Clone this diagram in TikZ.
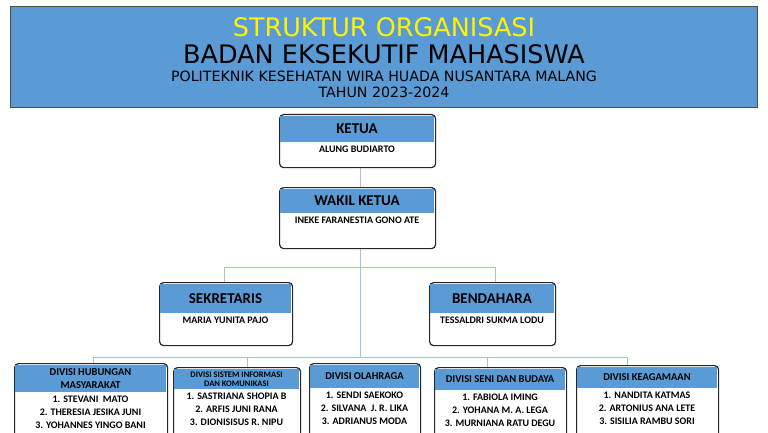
\documentclass[tikz,border=0pt]{standalone}
\usepackage{fontspec}
\setmainfont{Carlito}
\newfontfamily\hdr{DejaVu Sans}
\definecolor{hblue}{HTML}{5B9BD5}
\definecolor{lblue}{HTML}{9DC3E6}
\begin{document}
\begin{tikzpicture}[x=1pt,y=-1pt,
  boxframe/.style={draw=black!85,line width=1.2pt,rounded corners=4pt,fill=white},
  headfill/.style={fill=hblue},
  conn/.style={draw=lblue,line width=0.8pt},
  ttl/.style={font=\bfseries,align=center,inner sep=0pt},
  body/.style={font=\bfseries\fontsize{10}{13}\selectfont,align=center,inner sep=0pt}]
\useasboundingbox (0,0) rectangle (768,433);
\newcommand\orgbox[9]{%
  \node[boxframe,minimum width=#4-#2,minimum height=#5-#3,anchor=north west] (#1) at (#2,#3) {};
  \fill[headfill] (#2+1,#3+2) rectangle (#4-1,#6);
  \node[ttl,font=\bfseries#9] (#1t) at ({(#2+#4)/2},{(#3+#6)/2+1}) {#7};
  \node[body,anchor=north] (#1b) at ({(#2+#4)/2},#6+4) {#8};
}
% header
\node[draw=black!70,fill=hblue,minimum width=747,minimum height=101,anchor=north west,inner sep=0] (hd) at (10,6) {};
\node[font=\hdr\fontsize{25.5}{25.5}\selectfont,text=yellow] (h1) at (384,27) {STRUKTUR ORGANISASI};
\node[font=\hdr\fontsize{25.5}{25.5}\selectfont] (h2) at (384,54) {BADAN EKSEKUTIF MAHASISWA};
\node[font=\hdr\fontsize{14.2}{14.2}\selectfont] (h3) at (384,76) {POLITEKNIK KESEHATAN WIRA HUADA NUSANTARA MALANG};
\node[font=\hdr\fontsize{14.2}{14.2}\selectfont] (h4) at (384,92) {TAHUN 2023-2024};
% connectors
\coordinate (top) at (360,167);
\coordinate (m2) at (360,357);
\draw[conn] (top) -- (m2);
\draw[conn] (224,282) |- (495,267) -- (495,282);
\draw[conn] (93,363) |- (627,357) -- (627,365);
\draw[conn] (247,367) -- (247,357);
\draw[conn] (487,367) -- (487,357);
% boxes
\orgbox{ketua}{279}{114}{435}{167}{142}{KETUA}{ALUNG BUDIARTO}{\fontsize{15}{15}\selectfont}
\orgbox{wakil}{279}{187}{435}{248}{213}{WAKIL KETUA}{INEKE FARANESTIA GONO ATE}{\fontsize{15}{15}\selectfont}
\orgbox{sek}{159}{282}{292}{345}{313}{SEKRETARIS}{MARIA YUNITA PAJO}{\fontsize{15}{15}\selectfont}
\orgbox{bend}{429}{282}{555}{345}{313}{BENDAHARA}{TESSALDRI SUKMA LODU}{\fontsize{15}{15}\selectfont}
\orgbox{d1}{14}{363}{167}{440}{392}{DIVISI HUBUNGAN\\MASYARAKAT}{1. STEVANI\ \ MATO\\2. THERESIA JESIKA JUNI\\3. YOHANNES YINGO BANI}{\fontsize{10.5}{13}\selectfont}
\orgbox{d2}{173}{367}{300}{440}{389}{DIVISI SISTEM INFORMASI\\DAN KOMUNIKASI}{1. SASTRIANA SHOPIA B\\2. ARFIS JUNI RANA\\3. DIONISISUS R. NIPU}{\fontsize{8.5}{9}\selectfont}
\orgbox{d3}{309}{363}{420}{440}{388}{DIVISI OLAHRAGA}{1. SENDI SAEKOKO\\2. SILVANA\ \ J. R. LIKA\\3. ADRIANUS MODA}{\fontsize{10.5}{13}\selectfont}
\orgbox{d4}{434}{367}{566}{440}{390}{DIVISI SENI DAN BUDAYA}{1. FABIOLA IMING\\2. YOHANA M. A. LEGA\\3. MURNIANA RATU DEGU}{\fontsize{10.5}{13}\selectfont}
\orgbox{d5}{576}{365}{718}{440}{388}{DIVISI KEAGAMAAN}{1. NANDITA KATMAS\\2. ARTONIUS ANA LETE\\3. SISILIA RAMBU SORI}{\fontsize{10.5}{13}\selectfont}
\end{tikzpicture}
\end{document}
